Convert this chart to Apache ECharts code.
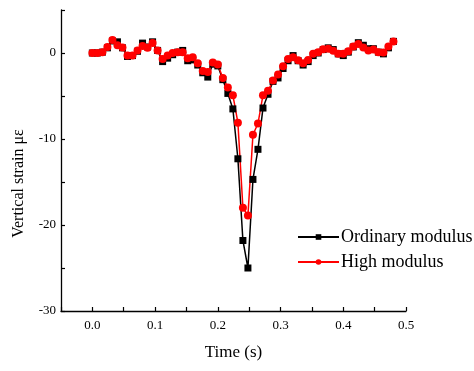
<!DOCTYPE html>
<html>
<head>
<meta charset="utf-8">
<script src="https://cdn.jsdelivr.net/npm/echarts@6/dist/echarts.min.js"></script>
<style>
    html, body { margin: 0; padding: 0; background: #ffffff; }
    #chart { width: 474px; height: 371px; }
</style>
</head>
<body>
<div id="chart"></div>
<script>
// time (s), one sample every 0.008 s
const times = [
    0, 0.008, 0.016, 0.024, 0.032, 0.04, 0.048, 0.056, 0.064, 0.072,
    0.08, 0.088, 0.096, 0.104, 0.112, 0.12, 0.128, 0.136, 0.144, 0.152,
    0.16, 0.168, 0.176, 0.184, 0.192, 0.2, 0.208, 0.216, 0.224, 0.232,
    0.24, 0.248, 0.256, 0.264, 0.272, 0.28, 0.288, 0.296, 0.304, 0.312,
    0.32, 0.328, 0.336, 0.344, 0.352, 0.36, 0.368, 0.376, 0.384, 0.392,
    0.4, 0.408, 0.416, 0.424, 0.432, 0.44, 0.448, 0.456, 0.464, 0.472,
    0.48
];

const ordinaryModulus = [
    0, 0, 0.1, 0.6, 1.4, 1.3, 0.6, -0.4, -0.3, 0.2,
    1.15, 0.7, 1.3, 0.3, -1.0, -0.6, -0.2, 0.1, 0.3, -0.9,
    -0.8, -1.4, -2.3, -2.8, -1.3, -1.5, -3.1, -4.7, -6.5, -12.3,
    -21.8, -25, -14.7, -11.2, -6.4, -4.8, -3.3, -2.9, -1.8, -0.9,
    -0.3, -0.9, -1.4, -1.0, -0.3, 0.0, 0.4, 0.6, 0.4, -0.1,
    -0.3, 0.1, 0.7, 1.2, 0.9, 0.5, 0.5, 0.1, -0.1, 0.6,
    1.35
];

const highModulus = [
    0, 0, 0.1, 0.7, 1.5, 0.9, 0.65, -0.3, -0.3, 0.3,
    0.8, 0.6, 1.15, 0.3, -0.7, -0.3, 0, 0.1, 0.1, -0.6,
    -0.5, -1.2, -2.1, -2.2, -1.1, -1.35, -2.9, -4.0, -4.9, -8.1,
    -18.0, -18.9, -9.5, -8.2, -4.9, -4.4, -3.2, -2.5, -1.55, -0.7,
    -0.5, -0.85, -1.2, -0.8, -0.1, 0.1, 0.45, 0.5, 0.27, -0.1,
    -0.1, 0.2, 0.77, 1.05, 0.65, 0.3, 0.4, 0.1, 0.07, 0.77,
    1.35
];

const seriesNames = ['Ordinary modulus', 'High modulus'];

const font = 'Liberation Serif';

function pairs(values) {
    return times.map((t, i) => [t, values[i]]);
}

const chart = echarts.init(document.getElementById('chart'), null, { renderer: 'canvas' });

const axisCommon = {
    axisLine: { show: true, onZero: false, lineStyle: { color: '#000', width: 1.3 } },
    axisTick: { show: true, inside: true, length: 4, lineStyle: { color: '#000', width: 1.2 } },
    splitLine: { show: false },
    nameTextStyle: { color: '#000', fontFamily: font }
};

chart.setOption({
    backgroundColor: '#ffffff',
    animation: false,
    grid: { left: 61, right: 68, top: 10, bottom: 60 },
    legend: {
        data: seriesNames,
        orient: 'vertical',
        left: 292,
        top: 223,
        itemWidth: 41,
        itemHeight: 7,
        itemGap: 7,
        textStyle: { color: '#000', fontFamily: font, fontSize: 18, padding: [0, 0, 0, -3] }
    },
    xAxis: Object.assign({}, axisCommon, {
        type: 'value',
        min: -0.05,
        max: 0.5,
        interval: 0.05,
        name: 'Time (s)',
        nameLocation: 'middle',
        nameGap: 33,
        nameTextStyle: { color: '#000', fontFamily: font, fontSize: 17 },
        axisLabel: {
            color: '#000',
            fontFamily: font,
            fontSize: 13,
            margin: 8,
            formatter: v => {
                const k = Math.round(v * 100);
                return (k % 10 === 0 && k >= 0) ? (v).toFixed(1) : '';
            }
        }
    }),
    yAxis: Object.assign({}, axisCommon, {
        type: 'value',
        min: -30,
        max: 5,
        interval: 5,
        name: 'Vertical strain με',
        nameLocation: 'middle',
        nameGap: 34,
        nameTextStyle: { color: '#000', fontFamily: font, fontSize: 16, padding: [0, 46, 0, 0] },
        axisLabel: {
            color: '#000',
            fontFamily: font,
            fontSize: 13,
            margin: 5,
            formatter: v => (Math.round(v) % 10 === 0 ? String(v) : '')
        }
    }),
    series: [
        {
            name: seriesNames[0],
            type: 'line',
            data: pairs(ordinaryModulus),
            symbol: 'rect',
            symbolSize: 7,
            lineStyle: { color: '#000', width: 1.5 },
            itemStyle: { color: '#000' }
        },
        {
            name: seriesNames[1],
            type: 'line',
            data: pairs(highModulus),
            symbol: 'circle',
            symbolSize: 8,
            lineStyle: { color: '#ff0000', width: 1.5 },
            itemStyle: { color: '#ff0000' }
        }
    ]
});

window.addEventListener('resize', () => chart.resize());
</script>
</body>
</html>
